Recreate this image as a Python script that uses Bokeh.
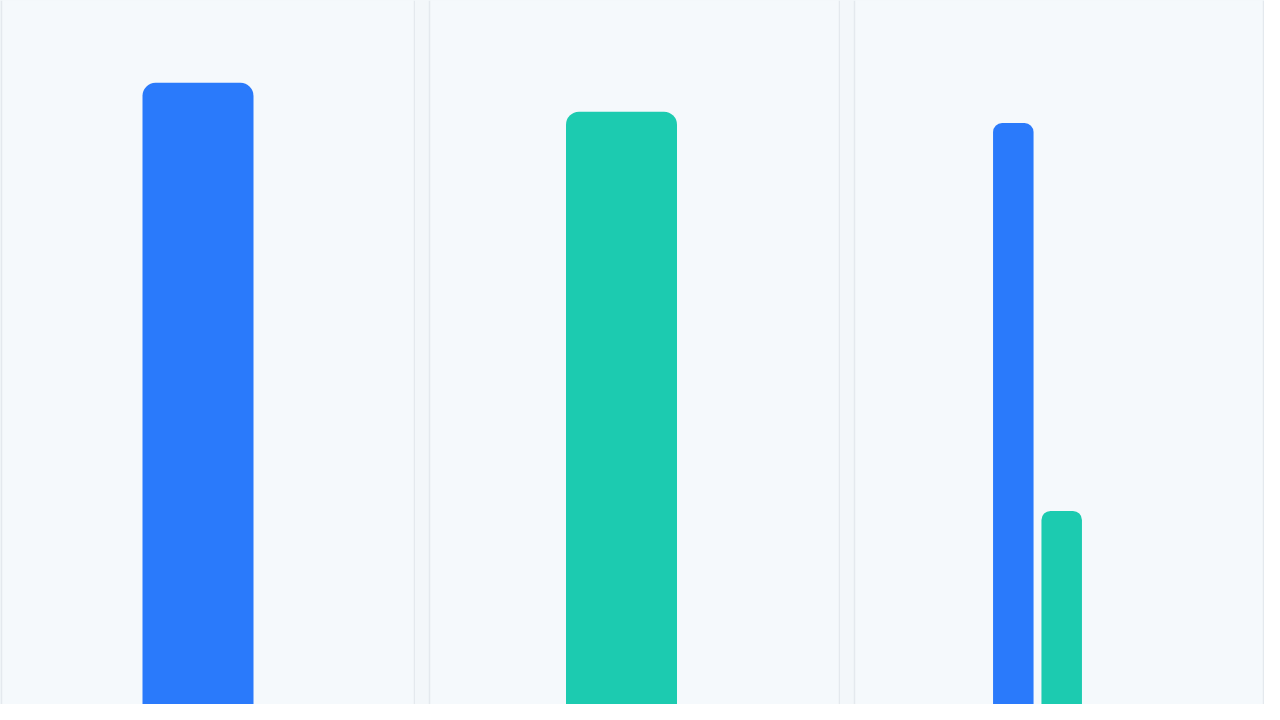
from bokeh.plotting import figure
from bokeh.layouts import row
from bokeh.models import Range1d, ColumnDataSource
from bokeh.embed import file_html
from bokeh.resources import INLINE

# ---- data ----
panel1_categories = ["A"]
panel1_values = [88.3]
panel2_categories = ["B"]
panel2_values = [84.2]
panel3_categories = ["C"]
panel3_series_a = [82.6]
panel3_series_b = [27.5]

BLUE = "#2a7afb"
TEAL = "#1ccbb0"
PANEL_BG = "#f5f9fc"
BORDER = "#e4e9ee"
GAP_BG = "#f3f7fa"
H = 704


def make_panel(width, center_px):
    frame_w = width - 4
    p = figure(width=width, height=H, output_backend="svg", toolbar_location=None,
               x_range=Range1d(-center_px, frame_w - center_px), y_range=Range1d(0, 100))
    p.axis.visible = False
    p.grid.visible = False
    p.outline_line_color = None
    p.background_fill_color = PANEL_BG
    p.border_fill_color = BORDER
    p.min_border = 0
    p.min_border_left = 2
    p.min_border_right = 2
    p.min_border_top = 0
    p.min_border_bottom = 0
    return p


# panel 1
p1 = make_panel(415, 195.5)
s1 = ColumnDataSource(dict(x=[i * 0 for i in range(len(panel1_categories))], top=panel1_values))
p1.vbar(x="x", top="top", bottom=0, width=111, source=s1, fill_color=BLUE,
        line_color=None, border_radius=(13, 13, 0, 0))

# panel 2
p2 = make_panel(412, 191)
s2 = ColumnDataSource(dict(x=[i * 0 for i in range(len(panel2_categories))], top=panel2_values))
p2.vbar(x="x", top="top", bottom=0, width=111, source=s2, fill_color=TEAL,
        line_color=None, border_radius=(13, 13, 0, 0))

# panel 3
p3 = make_panel(411, 182)
xs = [i * 0 for i in range(len(panel3_categories))]
s3a = ColumnDataSource(dict(x=[x - 24.2 for x in xs], top=panel3_series_a))
s3b = ColumnDataSource(dict(x=[x + 24.2 for x in xs], top=panel3_series_b))
p3.vbar(x="x", top="top", bottom=0, width=40.5, source=s3a, fill_color=BLUE,
        line_color=None, border_radius=(9, 9, 0, 0))
p3.vbar(x="x", top="top", bottom=0, width=40.5, source=s3b, fill_color=TEAL,
        line_color=None, border_radius=(9, 9, 0, 0))

layout = row(p1, p2, p3, spacing=13, styles={"background-color": GAP_BG})

open("out.html", "w").write(file_html(layout, INLINE))
